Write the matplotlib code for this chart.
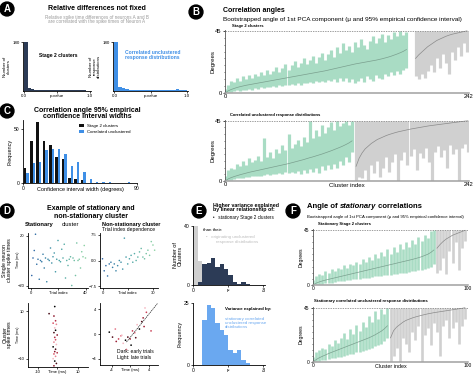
import numpy as np
import matplotlib
matplotlib.use("Agg")
import matplotlib.pyplot as plt
from matplotlib.colors import LinearSegmentedColormap

plt.rcParams['font.family'] = ['Liberation Sans', 'DejaVu Sans']
plt.rcParams['axes.linewidth'] = 0.6
plt.rcParams['xtick.major.width'] = 0.5
plt.rcParams['ytick.major.width'] = 0.5
plt.rcParams['xtick.major.size'] = 1.5
plt.rcParams['ytick.major.size'] = 1.5
plt.rcParams['xtick.major.pad'] = 1
plt.rcParams['ytick.major.pad'] = 1

W, H = 474, 381
NAVY = '#2c3b56'
BLUE = '#3f8fe6'
LBLUE = '#6aa8f0'
GREEN = '#a9dcc4'
GMEAN = '#7a9f8e'
GRAY = '#d0d0d0'
RMEAN = '#8a8a8a'

# ---------------- data ----------------
# A: p-value histograms (bins of 0.05)
a_bins = np.linspace(0, 1, 21)
a_stage2 = [180, 12, 7, 5, 3, 4, 3, 2, 3, 4, 2, 3, 2, 3, 2, 4, 3, 2, 2, 1]
a_corr = [180, 15, 10, 6, 5, 4, 5, 3, 4, 3, 5, 3, 4, 3, 2, 4, 5, 6, 4, 2]

# C: CI width histograms (bins of 5 degrees)
c_bins = np.arange(0, 90, 5)
c_stage2 = [14, 39, 56, 39, 35, 24, 22, 5, 4, 3, 0, 0, 0, 0, 0, 0, 0, 0]
c_corr = [9, 18, 19, 30, 31, 31, 27, 16, 19, 10, 4, 1, 1, 1, 0, 0, 1, 0]

# B top: Stage 2 clusters (every 3rd cluster)
bt_g_start, bt_r_start, b_step = 0, 189, 3
bt_g_mean = [0, 1.5, 2.5, 3.3, 4, 4.6, 5.1, 5.6, 6, 6.4, 6.8, 7.2, 7.6, 8, 8.4, 8.8, 9.2, 9.6, 10, 10.4,
             10.8, 11.2, 11.6, 12, 12.4, 12.8, 13.2, 13.6, 14, 14.4, 14.8, 15.2, 15.6, 16, 16.5, 17, 17.5,
             18, 18.5, 19, 19.5, 20, 20.5, 21, 21.4, 21.8, 22.2, 22.6, 23, 23.4, 23.8, 24.3, 24.8, 25.4,
             26, 26.7, 27.5, 28.3, 29.2, 30.2, 31.5]
bt_g_hi = [3, 6, 9, 8, 11, 9, 12, 10, 13, 11, 14, 12, 15, 13, 17, 14, 16, 19, 15, 18, 21, 17, 20, 23,
           19, 22, 25, 21, 24, 27, 22, 26, 29, 24, 28, 31, 26, 33, 29, 36, 31, 34, 30, 37, 33, 39, 35,
           32, 38, 41, 36, 40, 43, 37, 42, 39, 44, 41, 45, 42, 44]
bt_g_lo = [0, 0.5, 1, 1.5, 2, 1.5, 2.5, 2, 3, 2.5, 3.5, 3, 4, 3.5, 4.5, 4, 5, 4.5, 5.5, 5, 6, 5.5,
           6.5, 6, 7, 6, 7.5, 7, 8, 7, 8.5, 8, 9, 8, 9.5, 9, 10, 8, 10.5, 9, 11, 8, 10, 7, 9, 11, 8,
           12, 10, 9, 13, 11, 10, 14, 12, 15, 13, 16, 14, 17, 18]
bt_r_mean = [25, 27.5, 29.5, 31.5, 33.5, 35, 36.5, 38, 39, 40, 41, 41.8, 42.5, 43, 43.5, 44, 44.5, 45]
bt_r_hi = [45] * 18
bt_r_lo = [12, 10, 14, 11, 16, 20, 15, 25, 18, 28, 22, 14, 30, 24, 33, 27, 36, 30]

# B bottom: correlated unclustered response distributions
bb_g_start, bb_r_start = 0, 130
bb_g_mean = [0, 1.5, 2.5, 3.3, 4, 4.7, 5.3, 5.9, 6.5, 7, 7.5, 8, 8.5, 9, 9.5, 10, 10.5, 11, 11.5, 12,
             12.5, 13, 13.6, 14.2, 14.8, 15.4, 16, 16.7, 17.4, 18, 18.7, 19.4, 20.1, 20.9, 21.7, 22.5,
             23.4, 24.3, 25.2, 26.2, 27.3, 28.5, 30]
bb_g_hi = [4, 8, 10, 9, 13, 11, 15, 12, 17, 14, 16, 19, 15, 32, 18, 22, 17, 24, 21, 27, 23, 35, 25, 28,
           31, 26, 33, 29, 45, 32, 38, 34, 42, 36, 40, 44, 38, 45, 41, 43, 45, 42, 45]
bb_g_lo = [0, 0.5, 1, 1.5, 2, 2, 2.5, 3, 3, 3.5, 3.5, 4, 4, 4.5, 5, 4.5, 5.5, 5, 6, 5.5, 6.5, 6, 7, 6,
           7.5, 5, 8, 6, 9, 7, 10, 6, 11, 8, 12, 9, 13, 10, 15, 12, 18, 14, 22]
bb_r_mean = [11, 17, 21, 24, 26, 28, 29.5, 31, 32, 33, 34, 34.8, 35.5, 36.2, 36.8, 37.3, 37.8, 38.3,
             38.8, 39.2, 39.6, 40, 40.4, 40.8, 41.2, 41.5, 41.8, 42.1, 42.4, 42.7, 43, 43.3, 43.6,
             43.9, 44.2, 44.5, 44.8, 45]
bb_r_hi = [45] * 38
bb_r_lo = [0, 3, 2, 8, 1, 12, 6, 15, 3, 10, 18, 7, 14, 20, 0, 16, 22, 12, 19, 24, 8, 21, 17, 25, 14, 0,
           22, 26, 18, 23, 10, 27, 20, 24, 0, 25, 28, 22]

# F top: stationary Stage 2 clusters (every 2nd cluster)
f_step = 2
ft_g_start, ft_r_start = 0, 80
ft_g_mean = [0, 1.5, 2.5, 3.3, 4, 4.6, 5.2, 5.8, 6.4, 7, 7.6, 8.2, 8.8, 9.4, 10, 10.6, 11.2, 11.8, 12.4,
             13, 13.6, 14.2, 14.8, 15.4, 16, 16.6, 17.2, 17.8, 18.4, 19, 19.6, 20.2, 20.8, 21.5, 22.2,
             23, 24, 25, 26.5, 28.5]
ft_g_hi = [4, 7, 9, 8, 11, 10, 13, 11, 14, 13, 16, 14, 17, 16, 19, 17, 21, 19, 23, 20, 25, 22, 27, 24,
           29, 25, 31, 27, 33, 29, 35, 31, 37, 33, 39, 36, 41, 38, 44, 45]
ft_g_lo = [0, 0.5, 1, 1, 1.5, 2, 2, 2.5, 3, 3, 3.5, 4, 4, 4.5, 5, 5, 5.5, 6, 6, 6.5, 7, 7, 7.5, 8, 8,
           8.5, 9, 9, 9.5, 10, 10, 10.5, 11, 11, 12, 12, 13, 14, 15, 17]
ft_r_mean = [30, 33, 35.5, 37.5, 39, 40.5, 41.5, 42.5, 43.5, 44.5]
ft_r_hi = [45] * 10
ft_r_lo = [10, 12, 22, 9, 28, 18, 35, 12, 30, 36]

# F bottom: stationary correlated unclustered response distributions
fb_g_start, fb_r_start = 0, 50
fb_g_mean = [0, 2, 3.5, 4.7, 5.8, 7, 8, 9, 10, 11, 12, 13, 14, 15, 16, 17, 18, 19, 20, 21.2, 22.5, 24,
             25.5, 27.5, 30]
fb_g_hi = [4, 8, 10, 12, 11, 15, 13, 18, 16, 20, 24, 19, 27, 23, 31, 26, 33, 29, 38, 33, 42, 36, 44, 40, 45]
fb_g_lo = [0, 0.5, 1, 1.5, 2, 2.5, 3, 3.5, 4, 4.5, 5, 6, 6.5, 7, 8, 8.5, 9, 10, 11, 12, 13, 14, 15, 17, 20]
fb_r_mean = [20, 26, 29, 31, 33, 34.5, 35.5, 36.5, 37.3, 38, 38.7, 39.3, 39.9, 40.4, 40.9, 41.3, 41.7,
             42.1, 42.5, 42.9, 43.3, 43.7, 44.1, 44.5, 45]
fb_r_hi = [45] * 25
fb_r_lo = [0, 5, 12, 0, 20, 15, 8, 25, 18, 30, 0, 22, 28, 14, 32, 25, 5, 30, 35, 20, 28, 33, 15, 30, 36]

# D: example clusters
d_st_trial = [1, 2, 3, 4, 5, 6, 7, 8, 9, 10, 11, 12, 13, 14, 15, 16, 17, 18, 19, 20, 21, 22, 23, 24,
              25, 26, 27, 28, 29, 30, 31, 32, 33, 34, 35, 36, 37, 38, 39, 40, 41, 42, 43, 44]
d_st_time = [-12, 2, 8, 21, -3, 1, -15, 0, -1, 5, -6, 2, -17, 1, 0, 10, -2, 3, 6, -9, 1, 16, 0, -1,
             9, 2, 13, -14, 0, -4, 1, 3, -20, 2, 0, -12, 14, 0, 1, -6, 7, 3, 12, 2]
d_ns_trial = [0, 1, 2, 3, 4, 5, 6, 7, 8, 9, 10, 11, 12, 13, 14, 15, 16, 17, 18, 19, 20, 21, 22, 23,
              24, 25, 26, 27, 28, 29, 30, 31]
d_ns_time = [0.5, -3, -1.5, -4.5, -1, -0.5, -2, -1, -3, -1.5, 0, -0.5, -2.5, 6.5, 1, -1, 0.5, 1.5,
             -0.5, 2, 0, 1, 2.5, 3.5, 1, 0.5, 2, 3, 1.5, 5.5, 4.5, 3]
d_sp_a = [0.5, -3, 0, 1, -0.5, 1.5, 0.5, 1, 0, 2, 0.5, 1, 0, 1.5, -0.5, 1, 0.5, 2, 0, 1, -0.5, 0.5, 1.5, 0]
d_sp_b = [12, 9, 8, 6, 5, 4.5, 3, 2, 1, 0, -1, -2, -3, -4, -5, -6, -7, -7.5, -8, -9, -10, -11, -12, -13]
d_nsp_a = [-4.5, -3.8, -3, -2.5, -2, -1.5, -1, -0.5, 0, 0.5, 1, 1.5, 2, 2.5, 3, 3.5, -3.2, -1.8, 0.2,
           1.2, 2.8, 4.5, -0.8, 3.2]
d_nsp_b = [0.3, -0.5, -1.2, -0.8, -0.3, -1.5, -1, -0.5, -0.8, 0.5, 0.2, 1.5, 0.8, 2, 1.2, 3.5, 0.8,
           -0.2, -1.8, -0.6, 2.6, 0.5, -2.5, 4.2]

# E: variance explained histograms (bins of 0.05)
e_bins = np.arange(0, 0.8, 0.05)
e_orig = [40, 16, 5, 2, 1, 0, 0, 0, 0, 0, 0, 0, 0, 0, 0, 0]
e_stat = [0, 2, 14, 15, 18, 12, 14, 11, 7, 2, 1, 2, 1, 0, 0, 0]
e2_bins = np.arange(0.1, 0.65, 0.05)
e2_corr = [18, 24, 23, 17, 14, 12, 6, 5, 6, 2, 1]

# ---------------- helpers ----------------
fig = plt.figure(figsize=(W / 100, H / 100), dpi=100)


def ax_px(l, t, r, b):
    return fig.add_axes([l / W, 1 - b / H, (r - l) / W, (b - t) / H])


def txt(x, y, s, size=4, **kw):
    kw.setdefault('va', 'center')
    return fig.text(x / W, 1 - y / H, s, fontsize=size, **kw)


def badge(x, y, s):
    fig.text(x / W, 1 - y / H, s, fontsize=7, color='white', fontweight='bold',
             ha='center', va='center',
             bbox=dict(boxstyle='circle,pad=0.2', fc='black', ec='black'))


def clean(ax, fs=3.5):
    for sp in ['top', 'right']:
        ax.spines[sp].set_visible(False)
    ax.tick_params(labelsize=fs)


def ci_panel(ax, g_start, g_mean, g_lo, g_hi, r_start, r_mean, r_lo, r_hi, step, n, lw):
    xg = g_start + step * np.arange(len(g_mean))
    xr = r_start + step * np.arange(len(r_mean))
    ax.vlines(xg, g_lo, g_hi, color=GREEN, lw=lw)
    ax.vlines(xr, r_lo, r_hi, color=GRAY, lw=lw)
    ax.plot(xg, g_mean, color=GMEAN, lw=0.5)
    ax.plot(xr, r_mean, color=RMEAN, lw=0.5)
    ax.axhline(45, color='#777777', lw=0.5, ls=(0, (2, 1.5)))
    ax.set_xlim(0, n)
    ax.set_ylim(0, 45.6)
    clean(ax, 4.2)
    ax.spines['bottom'].set_color('#a0a0a0')
    ax.spines['bottom'].set_linewidth(1.1)
    ax.spines['left'].set_color('#555555')
    ax.set_yticks([0, 45])
    ax.set_yticks(np.arange(0, 46, 5), minor=True)
    ax.tick_params(axis='y', which='minor', length=1, width=0.4)
    ax.set_xticks([0, n])
    ax.tick_params(axis='x', length=0)


# ---------------- A ----------------
badge(7, 9, 'A')
txt(97, 8, 'Relative differences not fixed', 5, fontweight='bold', ha='center')
txt(97, 17, 'Relative spike time differences of neurons A and B', 3.3, color='#9a9a9a', ha='center')
txt(97, 22, 'are correlated with the spike times of Neuron A', 3.3, color='#9a9a9a', ha='center')

for (l, r, vals, col, ylab) in [(23, 91, a_stage2, NAVY, 'Number of\nclusters'),
                                (113, 188, a_corr, BLUE, 'Number of\nresponse\ndistributions')]:
    ax = ax_px(l, 42, r, 91)
    ax.bar(a_bins[:-1], vals, width=0.05, align='edge', color=col)
    ax.set_xlim(-0.02, 1.02)
    ax.set_ylim(0, 180)
    clean(ax, 3.2)
    ax.set_yticks([180])
    ax.set_xticks([0, 0.5, 1])
    ax.set_xticklabels(['0.0', 'p-value', '1.0'])
    ax.set_ylabel(ylab, fontsize=3.2, labelpad=1, linespacing=0.9)
txt(39, 55, 'Stage 2 clusters', 3.6, fontweight='bold')
txt(125, 55, 'Correlated unclustered\nresponse distributions', 3.6, fontweight='bold',
    color=BLUE, linespacing=1.0)

# ---------------- B ----------------
badge(196, 12, 'B')
txt(223, 11, 'Correlation angles', 5, fontweight='bold')
txt(223, 20, 'Bootstrapped angle of 1st PCA component (\u03bc and 95% empirical confidence interval)', 4.6)

ax = ax_px(225, 30, 469, 93)
ci_panel(ax, bt_g_start, bt_g_mean, bt_g_lo, bt_g_hi, bt_r_start, bt_r_mean, bt_r_lo, bt_r_hi,
         b_step, 242, 2.3)
ax.set_ylabel('Degrees', fontsize=4.4, labelpad=0)
txt(232, 26, 'Stage 2 clusters', 3.0, fontweight='bold')

ax = ax_px(225, 120, 469, 181)
ci_panel(ax, bb_g_start, bb_g_mean, bb_g_lo, bb_g_hi, bb_r_start, bb_r_mean, bb_r_lo, bb_r_hi,
         b_step, 242, 2.3)
ax.set_ylabel('Degrees', fontsize=4.4, labelpad=0)
ax.set_xlabel('Cluster index', fontsize=4.4, labelpad=-3)
txt(230, 115, 'Correlated unclustered response distributions', 3.0, fontweight='bold')

# ---------------- C ----------------
badge(7, 111, 'C')
txt(87, 111, 'Correlation angle 95% empirical', 5, fontweight='bold', ha='center')
txt(87, 117, 'confidence interval widths', 5, fontweight='bold', ha='center')
ax = ax_px(23, 120, 137, 183)
ax.bar(c_bins + 0.4, c_stage2, width=2.1, align='edge', color='#111111', label='Stage 2 clusters')
ax.bar(c_bins + 2.5, c_corr, width=2.1, align='edge', color=BLUE, label='Correlated unclustered')
ax.set_xlim(0, 90)
ax.set_ylim(0, 58)
clean(ax, 3.6)
ax.set_xticks([0, 90])
ax.set_yticks([0, 50])
ax.set_ylabel('Frequency', fontsize=4, labelpad=1)
ax.set_xlabel('Confidence interval width (degrees)', fontsize=4, labelpad=-3)
ax.legend(loc='upper left', bbox_to_anchor=(0.46, 0.98), fontsize=3.2, frameon=False,
          handlelength=1.2, handleheight=0.7, labelspacing=0.3, borderpad=0.2)

# ---------------- D ----------------
badge(7, 211, 'D')
txt(91, 209, 'Example of stationary and', 5, fontweight='bold', ha='center')
txt(91, 216, 'non-stationary cluster', 5, fontweight='bold', ha='center')
txt(25, 225, 'Stationary', 4.2, fontweight='bold')
txt(62, 225, 'cluster', 4.2)
txt(102, 225, 'Non-stationary cluster', 4.0, fontweight='bold')
txt(102, 230, 'Trial index dependence', 3.6)

tcm = LinearSegmentedColormap.from_list('trials', ['#2f66a6', '#4aa3a8', '#8fd3a4'])
scm = LinearSegmentedColormap.from_list('spk', ['#000000', '#8a1026', '#d94a5f', '#f4b6c0'])

ax = ax_px(28, 233, 88, 288)
ax.scatter(d_st_trial, d_st_time, s=1.3, c=np.arange(len(d_st_trial)), cmap=tcm, lw=0)
ax.set_xlim(-2, 46); ax.set_ylim(-22, 22)
clean(ax, 3)
ax.set_xticks([0, 22, 44]); ax.set_xticklabels(['0', 'Trial index', '40'])
ax.set_yticks([-20, 20])
ax.set_ylabel('Single neuron\ncluster spike times', fontsize=3.8, labelpad=4, linespacing=0.95)
txt(18, 260, 'Time (ms)', 2.6, rotation=90, ha='center')

ax = ax_px(100, 233, 158, 288)
ax.scatter(d_ns_trial, d_ns_time, s=1.3, c=np.arange(len(d_ns_trial)), cmap=tcm, lw=0)
ax.set_xlim(-1.5, 33); ax.set_ylim(-8, 8)
clean(ax, 3)
ax.set_xticks([0, 15, 30]); ax.set_xticklabels(['0', 'Trial index', '30'])
ax.set_yticks([-7.5, 0, 7.5])

ax = ax_px(28, 303, 88, 367)
ax.scatter(d_sp_a, d_sp_b, s=1.5, c=np.arange(len(d_sp_a)) % 7, cmap=scm, lw=0)
ax.set_xlim(-16, 21); ax.set_ylim(-13.5, 13.5)
clean(ax, 3)
ax.set_xticks([-10, 2, 15]); ax.set_xticklabels(['-10', 'Time (ms)', '10'])
ax.set_yticks([-10, 10])
ax.set_ylabel('Cluster\nspike times', fontsize=3.8, labelpad=4, linespacing=0.95)
txt(18, 335, 'Time (ms)', 2.6, rotation=90, ha='center')

ax = ax_px(100, 303, 158, 365)
ax.scatter(d_nsp_a, d_nsp_b, s=1.5, c=np.arange(len(d_nsp_a)) % 6, cmap=scm, lw=0)
ax.plot([-0.8, 6.5], [-1.3, 5.5], color='#222222', lw=0.5, ls=(0, (2, 1)))
ax.set_xlim(-6.5, 6); ax.set_ylim(-5, 5)
clean(ax, 3)
ax.set_xticks([-4, 0, 4]); ax.set_xticklabels(['-4', 'Time (ms)', '4'])
ax.set_yticks([-4, 0, 4])
txt(117, 351, 'Dark: early trials', 3.6)
txt(117, 357, 'Light: late trials', 3.6)

# ---------------- E ----------------
badge(199, 211, 'E')
txt(213, 205, 'Higher variance explained', 3.8, fontweight='bold')
txt(213, 210, 'by linear relationship of:', 3.8, fontweight='bold')
txt(213, 218, '\u2022   stationary Stage 2 clusters', 3.3)
ax = ax_px(193, 226, 265, 285)
ax.bar(e_bins, e_orig, width=0.05, align='edge', color='#cfcfcf')
ax.bar(e_bins, e_stat, width=0.05, align='edge', color=NAVY)
ax.set_xlim(-0.005, 0.82); ax.set_ylim(0, 40)
clean(ax, 3.6)
ax.set_xticks([0, 0.4, 0.8]); ax.set_xticklabels(['0', 'r\u00b2', '.8'])
ax.set_yticks([0, 40])
ax.set_ylabel('Number of\nClusters', fontsize=4, labelpad=1, linespacing=0.95)
txt(203, 230, 'than their:', 3.2)
txt(206, 237, '\u2022   originating unclustered', 3.2, color='#bdbdbd')
txt(216, 242, 'response distributions', 3.2, color='#bdbdbd')

ax = ax_px(193, 303, 265, 365)
ax.bar(e2_bins, e2_corr, width=0.05, align='edge', color=LBLUE)
ax.set_xlim(-0.005, 0.82); ax.set_ylim(0, 25)
clean(ax, 3.6)
ax.set_xticks([0, 0.4, 0.8]); ax.set_xticklabels(['0', 'r\u00b2', '.8'])
ax.set_yticks([0, 25])
ax.set_ylabel('Frequency', fontsize=4, labelpad=1)
txt(225, 309, 'Variance explained by:', 3.2, fontweight='bold')
txt(225, 317, 'stationary correlated\nunclustered response\ndistributions', 3.2, color=LBLUE,
    va='top', linespacing=1.0)

# ---------------- F ----------------
badge(293, 211, 'F')
fig.canvas.draw()
rend = fig.canvas.get_renderer()
xcur = 307 / W
for part, st in [('Angle of ', 'normal'), ('stationary', 'italic'), (' correlations', 'normal')]:
    t = fig.text(xcur, 1 - 207 / H, part, fontsize=5.5, fontweight='bold', style=st, va='center')
    bb = t.get_window_extent(renderer=rend)
    xcur = fig.transFigure.inverted().transform((bb.x1, bb.y1))[0]
txt(307, 217, 'Bootstrapped angle of 1st PCA component (\u03bc and 95% empirical confidence interval)', 3.1)

ax = ax_px(313, 229, 468, 285)
ci_panel(ax, ft_g_start, ft_g_mean, ft_g_lo, ft_g_hi, ft_r_start, ft_r_mean, ft_r_lo, ft_r_hi,
         f_step, 100, 1.9)
ax.tick_params(labelsize=3.5)
ax.set_ylabel('Degrees', fontsize=3.7, labelpad=0)
txt(318, 224, 'Stationary Stage 2 clusters', 3.0, fontweight='bold')

ax = ax_px(313, 307, 468, 362)
ci_panel(ax, fb_g_start, fb_g_mean, fb_g_lo, fb_g_hi, fb_r_start, fb_r_mean, fb_r_lo, fb_r_hi,
         f_step, 100, 1.9)
ax.tick_params(labelsize=3.5)
ax.set_ylabel('Degrees', fontsize=3.7, labelpad=0)
ax.set_xlabel('Cluster index', fontsize=3.9, labelpad=-3)
txt(314, 301, 'Stationary correlated unclustered response distributions', 3.1, fontweight='bold')

fig.savefig('out.png', dpi=100)
